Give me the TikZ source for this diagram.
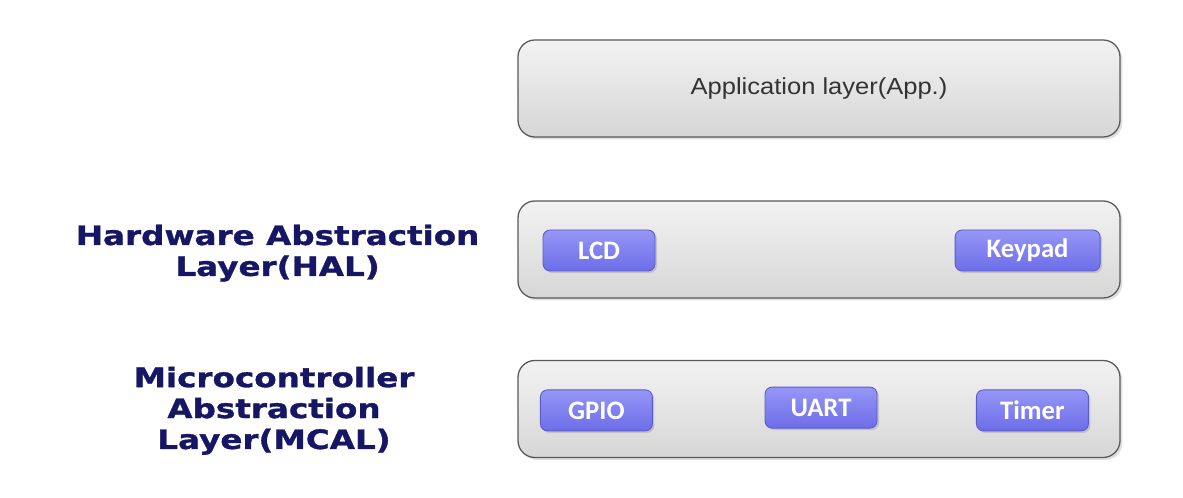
\documentclass[tikz,border=0pt]{standalone}
\usepackage{fontspec}
\setmainfont{Liberation Sans}
\newfontfamily\btnfont{Carlito}
\newfontfamily\appfont[FakeStretch=1.1]{Liberation Sans}
\newfontfamily\capfont[FakeStretch=1.22,FakeBold=1.2]{DejaVu Sans}
\usepackage{tikz}
\usetikzlibrary{positioning,shadows}
\definecolor{navy}{RGB}{22,22,100}
\definecolor{btnblue}{RGB}{115,115,245}
\definecolor{btnline}{RGB}{90,90,200}

\begin{document}
\begin{tikzpicture}[
		layer/.style={draw=black!65,line width=0.9pt,rounded corners=12pt,
			top color=gray!10,bottom color=gray!32,
			minimum width=15.05cm,minimum height=2.425cm,
			drop shadow={opacity=0.25,shadow xshift=0.6mm,shadow yshift=-0.6mm}},
		module/.style={draw=btnline,line width=0.6pt,rounded corners=5pt,
			top color=btnblue!75,bottom color=btnblue!95!black,
			text=white,font=\btnfont\bfseries\fontsize{19}{21}\selectfont,
			minimum height=1.025cm,
			drop shadow={opacity=0.3,shadow xshift=0.5mm,shadow yshift=-0.5mm}},
		caption/.style={text=navy,font=\capfont\bfseries\fontsize{19}{22}\selectfont,align=center}]
		\useasboundingbox (0,0) rectangle (29.575,12.45);
		% layers
		\node[layer,font=\appfont\fontsize{16.5}{18}\selectfont,text=black!80] (app) at (20.475,10.2375) {Application layer(App.)};
		\node[layer] (hal) at (20.475,6.2125) {};
		\node[layer] (mcal) at (20.475,2.225) {};
		% HAL modules
		\node[module,minimum width=2.8cm] (lcd) at (14.975,6.1875) {LCD};
		\node[module,minimum width=3.625cm] (keypad) at (25.69,6.1875) {Keypad};
		% MCAL modules
		\node[module,minimum width=2.8cm] (gpio) at (14.91,2.19) {GPIO};
		\node[module,minimum width=2.8cm] (uart) at (20.525,2.26) {UART};
		\node[module,minimum width=2.8cm] (timer) at (25.81,2.19) {Timer};
		% captions
		\node[caption] (halcap) at (6.94,6.12) {Hardware Abstraction\\Layer(HAL)};
		\node[caption] (mcalcap) at (6.85,2.18) {Microcontroller\\Abstraction\\Layer(MCAL)};
	\end{tikzpicture}
\end{document}
